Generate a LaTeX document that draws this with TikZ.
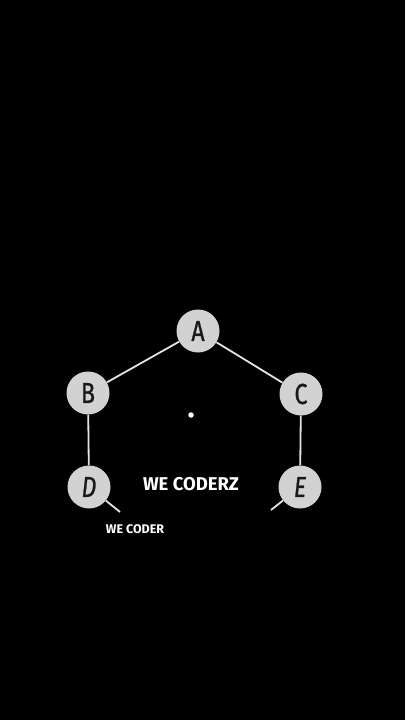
\documentclass[tikz,border=0pt]{standalone}
\usepackage{fontspec}
\setmainfont{Fira Sans}
\newfontfamily\letterfont[FakeStretch=0.8,FakeBold=0.8]{Fira Sans}
\begin{document}
\begin{tikzpicture}[x=1pt,y=-1pt,
  vert/.style={circle,fill=vgray,draw=none,minimum size=43pt,inner sep=0pt,font=\letterfont\fontsize{29}{29}\selectfont,text=black!90},
  edge/.style={draw=lgray,line width=1.8pt},
  lbl/.style={text=white,font=\fontsize{#1}{#1}\selectfont\bfseries,inner sep=0pt}]
\definecolor{vgray}{HTML}{D2D2D2}
\definecolor{lgray}{HTML}{E4E4E4}
\fill[black] (0,0) rectangle (405,720);
\useasboundingbox (0,0) rectangle (405,720);
\node[vert] (A) at (198,331) {A};
\node[vert] (B) at (88,393) {B};
\node[vert] (C) at (301,394) {C};
\node[vert] (D) at (89,487) {\textit{D}};
\node[vert] (E) at (300,487) {\textit{E}};
\coordinate (dt) at (120,512);
\coordinate (et) at (271,510);
\draw[edge] (A) -- (B);
\draw[edge] (A) -- (C);
\draw[edge] (B) -- (D);
\draw[edge] (C) -- (E);
\draw[edge] (D) -- (dt);
\draw[edge] (E) -- (et);
\node[circle,fill=white,minimum size=5.5pt,inner sep=0pt] (dot) at (191,415) {};
\node[lbl=18.5] (t1) at (191,484) {WE CODERZ};
\node[lbl=12.5] (t2) at (135,529) {WE CODER};
\end{tikzpicture}
\end{document}
